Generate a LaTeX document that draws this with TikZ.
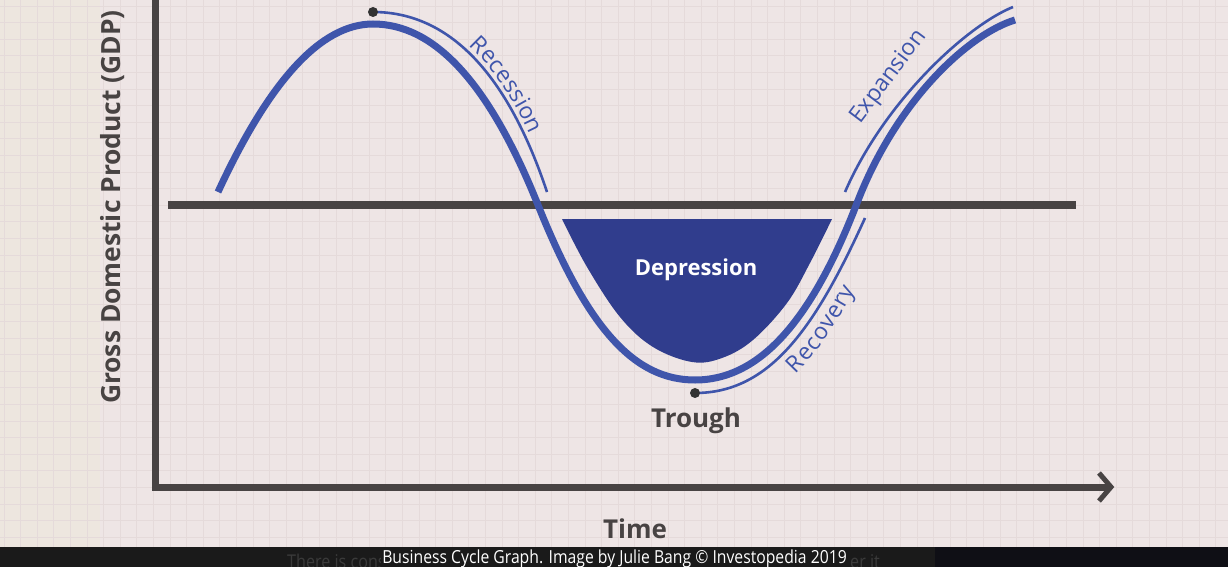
\documentclass[tikz,border=0pt]{standalone}
\usepackage{fontspec}
\setmainfont{Open Sans}
\usetikzlibrary{decorations.text}
\definecolor{bgc}{HTML}{EEE5E5}
\definecolor{bgl}{HTML}{EDE6DF}
\definecolor{gridc}{HTML}{E5DADA}
\definecolor{curveblue}{HTML}{3F55AB}
\definecolor{fillblue}{HTML}{303D8D}
\definecolor{axisc}{HTML}{484343}
\definecolor{dotc}{HTML}{333333}
\definecolor{capbg}{HTML}{1A1A1A}
\definecolor{capdark}{HTML}{0F0F15}
\definecolor{hidtext}{HTML}{3A3A3A}
\newcommand\lblfont{\fontsize{23}{23}\selectfont}
\tikzset{
  thick curve/.style={curveblue, line width=7pt, line cap=butt},
  thin curve/.style={curveblue, line width=2.6pt, line cap=butt},
  axisline/.style={axisc, line width=7pt, line join=miter},
  dotstyle/.style={dotc},
  curvelabel/.style 2 args={decorate, decoration={text along path, text align={align=left, left indent=#2}, text={|\lblfont\color{curveblue}|#1}}}
}
\begin{document}
\begin{tikzpicture}[x=1pt,y=-1pt]
\useasboundingbox (0,0) rectangle (1228,567);
\clip (0,0) rectangle (1228,567);
% background
\fill[bgc] (0,0) rectangle (1228,567);
\fill[bgl] (0,0) rectangle (100,547);
\foreach \i in {0,...,75} {\draw[gridc, line width=0.7pt] (\i*16.6+4,0) -- (\i*16.6+4,547);}
\foreach \j in {0,...,33} {\draw[gridc, line width=0.7pt] (0,\j*16.6+6) -- (1228,\j*16.6+6);}
% axes
\coordinate (ytop) at (155,0);
\coordinate (origin) at (155,487);
\coordinate (xend) at (1111,487);
\coordinate (tipa) at (1099,473);
\coordinate (tipb) at (1099,501);
\draw[axisline] (ytop) -- (origin) -- (xend);
\draw[axisc, line width=5pt, line join=miter] (tipa) -- (xend) -- (tipb);
% baseline
\coordinate (bl) at (168,205);
\coordinate (br) at (1076,205);
\draw[axisc, line width=8pt] (bl) -- (br);
% depression
\fill[fillblue] plot[smooth, tension=0.6] coordinates {(562,219) (587,267) (620,317) (653,347) (692,362) (722,358) (753,340) (787,303) (810,263) (832,219)} -- cycle;
\node[font=\bfseries\fontsize{22}{22}\selectfont, text=white] (dep) at (696,270) {Depression};
% main curve
\coordinate (c0) at (218,192);
\coordinate (peak) at (373,24);
\coordinate (x1) at (538,205);
\coordinate (trough) at (695,380);
\coordinate (x2) at (857,203);
\coordinate (c5) at (1015,20);
\draw[thick curve] (c0) .. controls (269.7,80) and (321.3,24) .. (peak)
  .. controls (433,24) and (488,80) .. (x1)
  .. controls (588,330) and (635,380) .. (trough)
  .. controls (760,380) and (812,320) .. (x2)
  .. controls (897,99) and (970,33.5) .. (c5);
% recession
\coordinate (ra) at (373,12);
\coordinate (rb) at (547,192);
\draw[thin curve] (ra) .. controls (438,12) and (502,57) .. (rb);
\fill[dotstyle] (ra) circle[radius=5pt];
\path[curvelabel={Recession}{102pt}, decoration={raise=5pt}] (ra) .. controls (438,12) and (502,57) .. (rb);
% recovery
\coordinate (va) at (695,393);
\coordinate (vb) at (865,218);
\draw[thin curve] (va) .. controls (770,393) and (815,328) .. (vb);
\fill[dotstyle] (va) circle[radius=5pt];
\path[curvelabel={Recovery}{93pt}, decoration={raise=-23pt}] (va) .. controls (770,393) and (815,328) .. (vb);
% expansion
\coordinate (ea) at (845,192);
\coordinate (eb) at (1013,7);
\draw[thin curve] (ea) .. controls (885,100) and (968,25) .. (eb);
\node[font=\lblfont, text=curveblue, rotate=53, inner sep=0pt] (explbl) at (889,77) {Expansion};
% labels
\node[font=\bfseries\fontsize{26}{26}\selectfont, text=axisc] (troughlbl) at (696,421) {Trough};
\node[font=\bfseries\fontsize{26}{26}\selectfont, text=axisc] (time) at (635,529) {Time};
\node[font=\bfseries\fontsize{26.4}{26.4}\selectfont, text=axisc, rotate=90] (ylab) at (113,207) {Gross Domestic Product (GDP)};
% caption bar
\fill[capbg] (0,547) rectangle (1228,567);
\fill[capdark] (935,547) rectangle (1228,567);
\node[anchor=base west, text=hidtext, font=\fontsize{19}{19}\selectfont, xscale=0.85, inner sep=0pt] (hidl) at (287,568) {There is cons};
\node[anchor=base east, text=hidtext, font=\fontsize{19}{19}\selectfont, xscale=0.85, inner sep=0pt] (hidr) at (880,568) {er it};
\node[anchor=base, fill=capbg, text=white, font=\fontsize{18}{18}\selectfont, xscale=0.874, inner xsep=1pt, inner ysep=2pt] (cap) at (614.5,563) {Business Cycle Graph. Image by Julie Bang © Investopedia 2019};
\end{tikzpicture}
\end{document}
